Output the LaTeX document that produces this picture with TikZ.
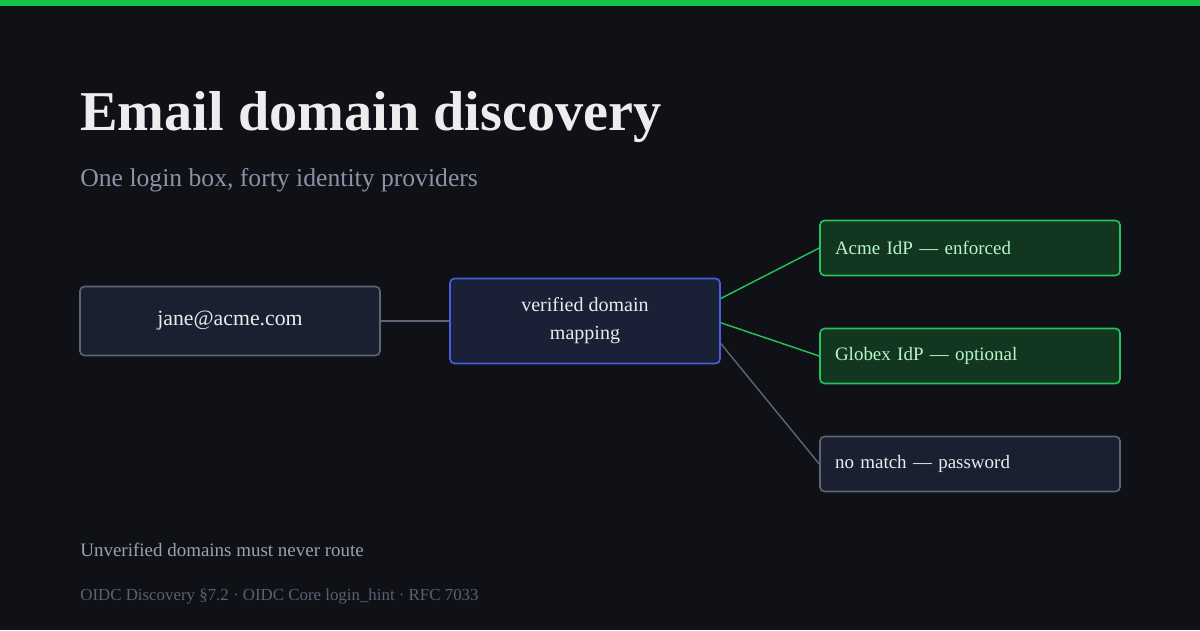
\documentclass[tikz,border=0pt]{standalone}
\usepackage{fontspec}
\setmainfont{Liberation Serif}
\usetikzlibrary{positioning,calc}

\definecolor{bgdark}{HTML}{0F1117}
\definecolor{topgreen}{HTML}{16C24A}
\definecolor{boxfill}{HTML}{1B2030}
\definecolor{boxgray}{HTML}{5C6476}
\definecolor{midblue}{HTML}{4A5FE0}
\definecolor{midfill}{HTML}{1A2036}
\definecolor{idpfill}{HTML}{12361F}
\definecolor{idpgreen}{HTML}{22C55E}
\definecolor{idptext}{HTML}{B8F5C8}
\definecolor{subgray}{HTML}{8A93A8}
\definecolor{notegray}{HTML}{9AA1B2}
\definecolor{refgray}{HTML}{5A6172}

\tikzset{
  box/.style={draw=boxgray, fill=boxfill, rounded corners=2.5pt, line width=0.9pt,
    text=white!92!black, inner sep=0pt},
  idp/.style={box, draw=idpgreen, fill=idpfill, text=idptext,
    minimum width=6cm, minimum height=1.1cm, font=\fontsize{10.8}{13}\selectfont,
    text width=5.4cm, align=left},
  link/.style={line width=0.8pt, boxgray},
  golink/.style={line width=0.8pt, idpgreen},
}

\begin{document}
\begin{tikzpicture}[x=0.02cm,y=-0.02cm]
        % Background and top bar
        \fill[bgdark] (0,0) rectangle (1200,630);
        \fill[topgreen] (0,0) rectangle (1200,6);
        \useasboundingbox (0,0) rectangle (1200,630);

        % Title block
        \node[anchor=base west, inner sep=0pt, text=white!93!black,
          font=\fontsize{32}{38}\selectfont\bfseries] (title) at (80,130) {Email domain discovery};
        \node[anchor=base west, inner sep=0pt, text=subgray,
          font=\fontsize{14.6}{18}\selectfont] (subtitle) at (80,186) {One login box, forty identity providers};

        % Input and mapping
        \node[box, minimum width=6cm, minimum height=1.38cm,
          font=\fontsize{12.4}{15}\selectfont] (email) at (230,321) {jane@acme.com};
        \node[box, draw=midblue, fill=midfill, minimum width=5.4cm, minimum height=1.7cm,
          align=center, font=\fontsize{11.4}{16}\selectfont] (mapping) at (585,321) {verified domain\\mapping};

        % Identity providers
        \node[idp] (acme) at (970,248) {Acme IdP — enforced};
        \node[idp] (globex) at (970,356) {Globex IdP — optional};
        \node[idp, draw=boxgray, fill=boxfill, text=white!92!black] (nomatch) at (970,464) {no match — password};

        % Connectors
        \draw[link] (email) -- (mapping);
        \coordinate (outA) at ($(mapping.north east)!0.24!(mapping.south east)$);
        \coordinate (outB) at ($(mapping.north east)!0.52!(mapping.south east)$);
        \coordinate (outC) at ($(mapping.north east)!0.76!(mapping.south east)$);
        \draw[golink] (outA) -- (acme.west);
        \draw[golink] (outB) -- (globex.west);
        \draw[link] (outC) -- (nomatch.west);

        % Footer
        \node[anchor=base west, inner sep=0pt, text=notegray,
          font=\fontsize{10.8}{13}\selectfont] (note) at (80,556) {Unverified domains must never route};
        \node[anchor=base west, inner sep=0pt, text=refgray,
          font=\fontsize{9.6}{12}\selectfont] (refs) at (80,600) {OIDC Discovery §7.2 · OIDC Core login\_hint · RFC 7033};
\end{tikzpicture}
\end{document}
